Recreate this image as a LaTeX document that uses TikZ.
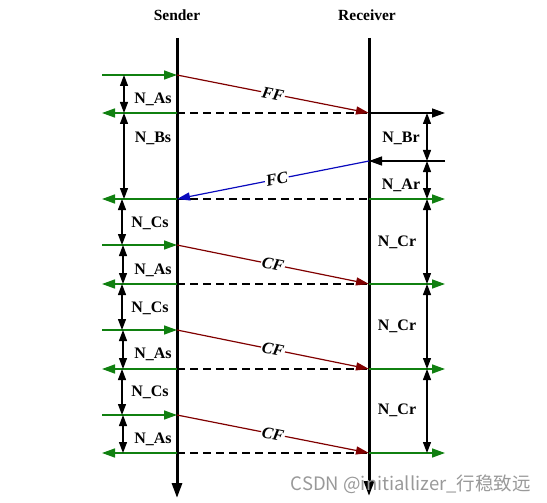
\documentclass[tikz,border=0pt]{standalone}
\usepackage{fontspec}
\setmainfont{Liberation Serif}
\newfontfamily\cjk{Noto Sans CJK SC}
\usetikzlibrary{arrows.meta}
\definecolor{gr}{RGB}{16,128,16}
\definecolor{dred}{RGB}{128,0,0}
\definecolor{dblue}{RGB}{10,10,190}
\begin{document}
\begin{tikzpicture}[x=1pt,y=-1pt,
  life/.style={line width=3pt,-{Triangle[length=15pt,width=10pt]}},
  garr/.style={draw=gr,line width=1.5pt,-{Triangle[length=13pt,width=9pt]}},
  barr/.style={draw=black,line width=1.3pt,-{Triangle[length=13pt,width=9pt]}},
  msgr/.style={draw=dred,line width=1.2pt,-{Triangle[length=13pt,width=8pt]}},
  msgb/.style={draw=dblue,line width=1.2pt,-{Triangle[length=13pt,width=8pt]}},
  dsh/.style={draw=black,line width=1.2pt,dash pattern=on 8pt off 5pt},
  dim/.style={draw=black,line width=1.3pt,{Triangle[length=11pt,width=8pt]}-{Triangle[length=11pt,width=8pt]}},
  lab/.style={font=\fontsize{16}{18}\selectfont\bfseries,inner sep=0pt},
  mlab/.style={font=\fontsize{16.5}{18}\selectfont\bfseries\itshape,fill=white,inner sep=1pt,sloped},
  ttl/.style={font=\fontsize{15.5}{18}\selectfont\bfseries}
]
\useasboundingbox (0,0) rectangle (547,503);
% titles
\node[ttl] (snd) at (177,15) {Sender};
\node[ttl] (rcv) at (367,15) {Receiver};
% lifelines
\coordinate (st) at (177,38); \coordinate (sb) at (177,498);
\coordinate (rt) at (369,38); \coordinate (rb) at (369,496);
% event coordinates
\foreach \n/\y in {a/75,b/113,c/161,d/199,e/245,f/284,g/330,h/369,i/415,j/453}{
  \coordinate (S\n) at (177,\y);
  \coordinate (R\n) at (369,\y);
  \coordinate (L\n) at (102,\y);
  \coordinate (T\n) at (445,\y);
  \coordinate (DS\n) at (124,\y);
  \coordinate (DR\n) at (427,\y);
}
% dashed lines
\foreach \n in {b,d,f,h,j}{\draw[dsh] (S\n) -- (R\n);}
% lifelines
\draw[life] (st) -- (sb);
\draw[life] (rt) -- (rb);
% sender green arrows
\foreach \n in {a,e,g,i}{\draw[garr] (L\n) -- (S\n);}
\foreach \n in {b,d,f,h,j}{\draw[garr] (S\n) -- (L\n);}
% receiver arrows
\draw[barr] (Rb) -- (Tb);
\draw[barr] (Tc) -- (Rc);
\foreach \n in {d,f,h,j}{\draw[garr] (R\n) -- (T\n);}
% messages
\draw[msgr] (Sa) -- node[mlab] (ff) {FF} (Rb);
\draw[msgb] (Rc) -- node[mlab,pos=0.48] (fc) {FC} (Sd);
\draw[msgr] (Se) -- node[mlab] (cf1) {CF} (Rf);
\draw[msgr] (Sg) -- node[mlab] (cf2) {CF} (Rh);
\draw[msgr] (Si) -- node[mlab] (cf3) {CF} (Rj);
% sender dims
\draw[dim] (DSa) -- (DSb); \node[lab] (nas1) at (153,99) {N\_As};
\draw[dim] (DSb) -- (DSd); \node[lab] (nbs) at (153,138) {N\_Bs};
\draw[dim] ([xshift=-2pt]DSd) -- ([xshift=-2pt]DSe); \node[lab] (ncs1) at (150,223) {N\_Cs};
\draw[dim] ([xshift=-1pt]DSe) -- ([xshift=-1pt]DSf); \node[lab] (nas2) at (153,270) {N\_As};
\draw[dim] ([xshift=-2pt]DSf) -- ([xshift=-2pt]DSg); \node[lab] (ncs2) at (150,308) {N\_Cs};
\draw[dim] ([xshift=-1pt]DSg) -- ([xshift=-1pt]DSh); \node[lab] (nas3) at (153,354) {N\_As};
\draw[dim] ([xshift=-2pt]DSh) -- ([xshift=-2pt]DSi); \node[lab] (ncs3) at (150,392) {N\_Cs};
\draw[dim] ([xshift=-1pt]DSi) -- ([xshift=-1pt]DSj); \node[lab] (nas4) at (153,439) {N\_As};
% receiver dims
\draw[dim] (DRb) -- (DRc); \node[lab] (nbr) at (401,138) {N\_Br};
\draw[dim] (DRc) -- (DRd); \node[lab] (nar) at (401,185) {N\_Ar};
\draw[dim] (DRd) -- (DRf); \node[lab] (ncr1) at (397,242) {N\_Cr};
\draw[dim] (DRf) -- (DRh); \node[lab] (ncr2) at (397,326) {N\_Cr};
\draw[dim] (DRh) -- (DRj); \node[lab] (ncr3) at (397,410) {N\_Cr};
% watermark
\node[font=\cjk\fontsize{18.5}{20}\selectfont,text=black!40,anchor=east,inner sep=0pt] (wm) at (531,484) {CSDN @initiallizer\_行稳致远};
\end{tikzpicture}
\end{document}
